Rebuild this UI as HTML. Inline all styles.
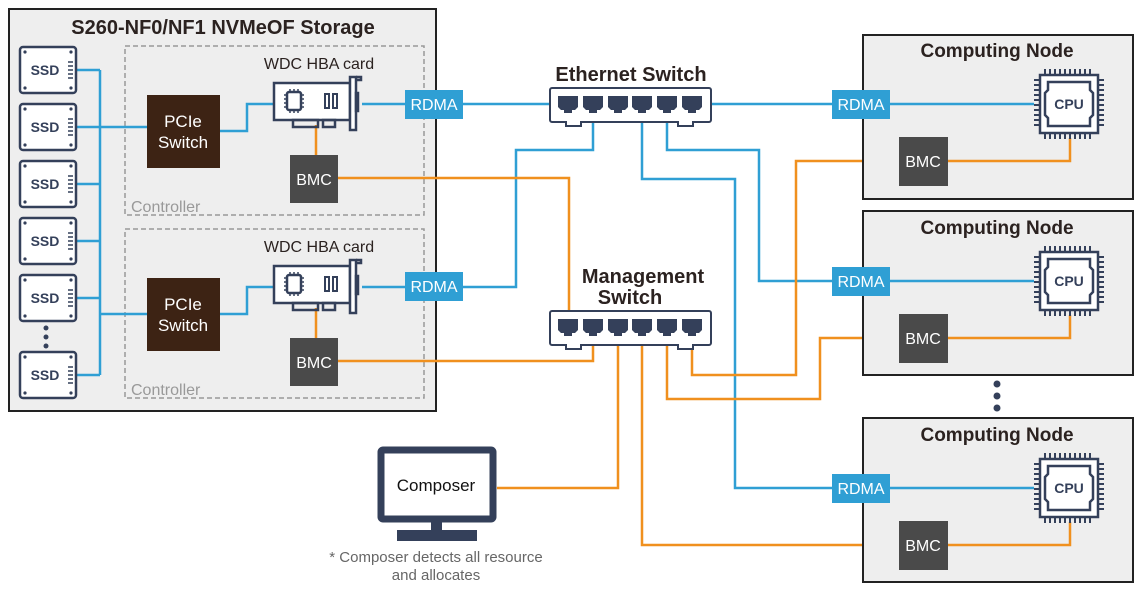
<!DOCTYPE html>
<html><head><meta charset="utf-8"><style>
html,body{margin:0;padding:0;background:#fff;}
svg{display:block;font-family:"Liberation Sans",sans-serif;}
</style></head><body>
<svg width="1140" height="594" viewBox="0 0 1140 594" xmlns="http://www.w3.org/2000/svg">
<defs>
<g id="ssd">
<rect x="0" y="0" width="56" height="46" rx="3" fill="#fff" stroke="#34405a" stroke-width="2.5"/>
<circle cx="5" cy="5" r="1.6" fill="#34405a"/><circle cx="51" cy="5" r="1.6" fill="#34405a"/>
<circle cx="5" cy="41" r="1.6" fill="#34405a"/><circle cx="51" cy="41" r="1.6" fill="#34405a"/>
<path d="M48 15h5M48 19h5M48 23h5M48 27h5M48 31h5" stroke="#34405a" stroke-width="1.5"/>
<text x="25" y="28" font-size="14" font-weight="bold" fill="#34405a" text-anchor="middle">SSD</text>
</g>
<g id="hba" fill="none" stroke="#34405a" stroke-width="2.5">
<rect x="0" y="0" width="76" height="37" fill="#fff"/>
<rect x="76" y="-6" width="6" height="53" fill="#fff"/>
<path d="M82 -6h5v3h-5" />
<rect x="82" y="10" width="2" height="18" fill="#34405a"/>
<rect x="19" y="37" width="25" height="7"/><rect x="49" y="37" width="12" height="7"/>
<rect x="13" y="9" width="14" height="18" rx="2"/>
<path d="M10 12h3M10 16h3M10 20h3M10 24h3M27 12h3M27 16h3M27 20h3M27 24h3M16 6v3M20 6v3M24 6v3M16 27v3M20 27v3M24 27v3" stroke-width="1.5"/>
<rect x="51" y="11" width="4" height="14" stroke-width="2"/><rect x="59" y="11" width="4" height="14" stroke-width="2"/>
</g>
<g id="cpu">
<rect x="-29" y="-29" width="58" height="58" fill="#fff" stroke="#34405a" stroke-width="2.5"/>
<path d="M-21 -22h42v8l3 3v22l-3 3v8h-42v-8l-3-3v-22l3-3z" fill="#fff" stroke="#34405a" stroke-width="2.5"/>
<path d="M-24 -29v-6M-19 -29v-6M-14 -29v-6M-9 -29v-6M-4 -29v-6M1 -29v-6M6 -29v-6M11 -29v-6M16 -29v-6M21 -29v-6M-24 29v6M-19 29v6M-14 29v6M-9 29v6M-4 29v6M1 29v6M6 29v6M11 29v6M16 29v6M21 29v6M-29 -24h-6M-29 -19h-6M-29 -14h-6M-29 -9h-6M-29 -4h-6M-29 1h-6M-29 6h-6M-29 11h-6M-29 16h-6M-29 21h-6M29 -24h6M29 -19h6M29 -14h6M29 -9h6M29 -4h6M29 1h6M29 6h6M29 11h6M29 16h6M29 21h6" stroke="#34405a" stroke-width="2"/>
<text x="0" y="5" font-size="14" font-weight="bold" fill="#34405a" text-anchor="middle">CPU</text>
</g>
<g id="sw">
<path d="M0 2a2 2 0 0 1 2-2h157a2 2 0 0 1 2 2v30a2 2 0 0 1-2 2h-16v4h-15v-4h-97v4h-15v-4h-14a2 2 0 0 1-2-2z" fill="#fff" stroke="#34405a" stroke-width="2"/>
<g fill="#34405a">
<path d="M8 8h20v11l-3 3h-3v3h-8v-3h-3l-3-3z"/>
<path d="M33 8h20v11l-3 3h-3v3h-8v-3h-3l-3-3z"/>
<path d="M58 8h20v11l-3 3h-3v3h-8v-3h-3l-3-3z"/>
<path d="M82 8h20v11l-3 3h-3v3h-8v-3h-3l-3-3z"/>
<path d="M107 8h20v11l-3 3h-3v3h-8v-3h-3l-3-3z"/>
<path d="M132 8h20v11l-3 3h-3v3h-8v-3h-3l-3-3z"/>
</g>
</g>
</defs>

<rect x="9" y="9" width="427" height="402" fill="#eeeeee" stroke="#222" stroke-width="2"/>
<text x="223" y="34" font-size="20" font-weight="bold" fill="#2b2220" text-anchor="middle">S260-NF0/NF1 NVMeOF Storage</text>
<rect x="125" y="46" width="299" height="169" fill="none" stroke="#999" stroke-width="1.5" stroke-dasharray="5,3"/>
<rect x="125" y="229" width="299" height="169" fill="none" stroke="#999" stroke-width="1.5" stroke-dasharray="5,3"/>
<text x="131" y="212" font-size="16" fill="#999">Controller</text>
<text x="131" y="395" font-size="16" fill="#999">Controller</text>

<g stroke="#2f9fd4" stroke-width="2.5" fill="none">
<path d="M74 70H100M74 127H147M74 184H100M74 241H100M74 298H100M74 375H100M100 70V375M100 314H147"/>
<path d="M220 131H247V104H273M362 104H405"/>
<path d="M220 314H247V287H273M362 287H405"/>
<path d="M463 104H568M692 104H832"/>
<path d="M593 106V150H516V287H463"/>
<path d="M642 106V179H735V488H832"/>
<path d="M667 106V150H759V281H832"/>
</g>
<g stroke="#f0901e" stroke-width="2.5" fill="none">
<path d="M316 125V155M316 308V338"/>
<path d="M338 178H569V327"/>
<path d="M338 361H593V329"/>
<path d="M618 329V488H497"/>
<path d="M642 329V545H899"/>
<path d="M667 329V399H820V338H899"/>
<path d="M692 329V375H796V161H899"/>
</g>

<use href="#ssd" x="20" y="47"/><use href="#ssd" x="20" y="104"/><use href="#ssd" x="20" y="161"/>
<use href="#ssd" x="20" y="218"/><use href="#ssd" x="20" y="275"/><use href="#ssd" x="20" y="352"/>
<circle cx="46" cy="328" r="2.5" fill="#34405a"/><circle cx="46" cy="337" r="2.5" fill="#34405a"/><circle cx="46" cy="346" r="2.5" fill="#34405a"/>

<rect x="147" y="95" width="73" height="73" fill="#3d2314"/>
<text x="183" y="127" font-size="17" fill="#fff" text-anchor="middle">PCIe</text>
<text x="183" y="148" font-size="17" fill="#fff" text-anchor="middle">Switch</text>
<rect x="147" y="278" width="73" height="73" fill="#3d2314"/>
<text x="183" y="310" font-size="17" fill="#fff" text-anchor="middle">PCIe</text>
<text x="183" y="331" font-size="17" fill="#fff" text-anchor="middle">Switch</text>

<text x="319" y="69" font-size="16" fill="#2b2220" text-anchor="middle">WDC HBA card</text>
<use href="#hba" x="274" y="83"/>
<text x="319" y="252" font-size="16" fill="#2b2220" text-anchor="middle">WDC HBA card</text>
<use href="#hba" x="274" y="266"/>

<rect x="290" y="155" width="48" height="48" fill="#4a4a4a"/>
<text x="314" y="185" font-size="16" fill="#fff" text-anchor="middle">BMC</text>
<rect x="290" y="338" width="48" height="48" fill="#4a4a4a"/>
<text x="314" y="368" font-size="16" fill="#fff" text-anchor="middle">BMC</text>

<rect x="405" y="90" width="58" height="29" fill="#2f9fd4"/>
<text x="434" y="110" font-size="16" fill="#fff" text-anchor="middle">RDMA</text>
<rect x="405" y="272" width="58" height="29" fill="#2f9fd4"/>
<text x="434" y="292" font-size="16" fill="#fff" text-anchor="middle">RDMA</text>

<text x="631" y="81" font-size="20" font-weight="bold" fill="#2b2220" text-anchor="middle">Ethernet Switch</text>
<use href="#sw" x="550" y="88"/>
<text x="643" y="283" font-size="20" font-weight="bold" fill="#2b2220" text-anchor="middle">Management</text>
<text x="630" y="304" font-size="20" font-weight="bold" fill="#2b2220" text-anchor="middle">Switch</text>
<use href="#sw" x="550" y="311"/>

<rect x="381" y="450" width="112" height="69" rx="2" fill="#fff" stroke="#34405a" stroke-width="7"/>
<rect x="431" y="522" width="11" height="9" fill="#34405a"/>
<rect x="397" y="530" width="80" height="11" fill="#34405a"/>
<text x="436" y="491" font-size="17" fill="#111" text-anchor="middle">Composer</text>
<text x="436" y="562" font-size="15" fill="#666" text-anchor="middle">* Composer detects all resource</text>
<text x="436" y="580" font-size="15" fill="#666" text-anchor="middle">and allocates</text>

<rect x="863" y="35" width="270" height="164" fill="#eeeeee" stroke="#222" stroke-width="2"/>
<text x="997" y="57" font-size="19" font-weight="bold" fill="#2b2220" text-anchor="middle">Computing Node</text>
<rect x="863" y="211" width="270" height="164" fill="#eeeeee" stroke="#222" stroke-width="2"/>
<text x="997" y="234" font-size="19" font-weight="bold" fill="#2b2220" text-anchor="middle">Computing Node</text>
<rect x="863" y="418" width="270" height="164" fill="#eeeeee" stroke="#222" stroke-width="2"/>
<text x="997" y="441" font-size="19" font-weight="bold" fill="#2b2220" text-anchor="middle">Computing Node</text>
<g stroke="#2f9fd4" stroke-width="2.5"><path d="M890 104H1034M890 281H1034M890 488H1034"/></g>
<g stroke="#f0901e" stroke-width="2.5" fill="none">
<path d="M948 161H1070V138M948 338H1070V315M948 545H1070V522"/>
</g>
<rect x="832" y="90" width="58" height="29" fill="#2f9fd4"/><text x="861" y="110" font-size="16" fill="#fff" text-anchor="middle">RDMA</text>
<rect x="832" y="267" width="58" height="29" fill="#2f9fd4"/><text x="861" y="287" font-size="16" fill="#fff" text-anchor="middle">RDMA</text>
<rect x="832" y="474" width="58" height="29" fill="#2f9fd4"/><text x="861" y="494" font-size="16" fill="#fff" text-anchor="middle">RDMA</text>
<rect x="899" y="137" width="49" height="49" fill="#4a4a4a"/><text x="923" y="167" font-size="16" fill="#fff" text-anchor="middle">BMC</text>
<rect x="899" y="314" width="49" height="49" fill="#4a4a4a"/><text x="923" y="344" font-size="16" fill="#fff" text-anchor="middle">BMC</text>
<rect x="899" y="521" width="49" height="49" fill="#4a4a4a"/><text x="923" y="551" font-size="16" fill="#fff" text-anchor="middle">BMC</text>
<use href="#cpu" x="1069" y="104"/>
<use href="#cpu" x="1069" y="281"/>
<use href="#cpu" x="1069" y="488"/>
<circle cx="997" cy="384" r="3.5" fill="#34405a"/><circle cx="997" cy="396" r="3.5" fill="#34405a"/><circle cx="997" cy="408" r="3.5" fill="#34405a"/>
</svg>
</body></html>
